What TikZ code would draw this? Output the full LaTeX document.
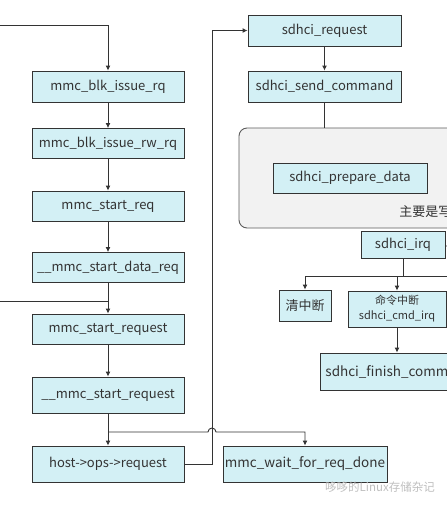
\documentclass[tikz,border=0pt]{standalone}
\usepackage{fontspec}
\setmainfont{Noto Sans CJK SC}
\usetikzlibrary{arrows.meta}
\definecolor{boxcyan}{HTML}{D3F0F5}
\definecolor{grpgray}{HTML}{F2F2F2}
\definecolor{linegray}{HTML}{333333}

\begin{document}
\begin{tikzpicture}[x=1pt,y=-1pt, line width=0.9pt,
  box/.style={draw=linegray, fill=boxcyan, text=linegray, inner sep=0pt, font=\fontsize{13}{15}\selectfont},
  grp/.style={draw=linegray!80, fill=grpgray, rounded corners=8pt},
  arr/.style={draw=linegray, -{Latex[length=5pt,width=5pt]}},
  ln/.style={draw=linegray}]
  \useasboundingbox (0,0) rectangle (447,507);
  \clip (0,0) rectangle (447,507);
  \foreach \n/\y/\h/\t in {blk/86.5/31/mmc\_blk\_issue\_rq, rw/143.5/30/mmc\_blk\_issue\_rw\_rq,
    startreq/206/30/mmc\_start\_req, datareq/267.5/30/\_\_mmc\_start\_data\_req,
    startrequest/329/30/mmc\_start\_request, ustart/395/36/\_\_mmc\_start\_request,
    host/464/36/host->ops->request}
    \node[box, minimum width=152pt, minimum height=\h pt] (\n) at (108,\y) {\t};
  \foreach \a/\b in {blk/rw,rw/startreq,startreq/datareq,datareq/startrequest,startrequest/ustart,ustart/host}
    \draw[arr] (\a) -- (\b);
  \coordinate (in1) at (0,25);
  \coordinate (in2) at (0,301);
  \coordinate (j) at (108,432);
  \draw[arr] (in1) -| (blk);
  \draw[ln] (in2) -- (in2 -| startrequest.north);

  \node[box, minimum width=153pt, minimum height=31pt] (sdhcireq) at (324.5,30.5) {sdhci\_request};
  \node[box, minimum width=153pt, minimum height=31pt] (sendcmd) at (324.5,86.5) {sdhci\_send\_command};
  \node[grp, minimum width=240pt, minimum height=100pt] (grp) at (359,178) {};
  \node[box, minimum width=154pt, minimum height=30pt] (prepare) at (350,178) {sdhci\_prepare\_data};
  \node[anchor=west, inner sep=0pt, text=linegray, font=\fontsize{13}{15}\selectfont] (note) at (399,212) {主要是写};
  \node[box, minimum width=84pt, minimum height=27pt] (irq) at (403,244.5) {sdhci\_irq};
  \node[box, minimum width=52pt, minimum height=31pt] (clear) at (305,305.5) {清中断};
  \node[box, minimum width=98pt, minimum height=36pt, align=center, font=\fontsize{11}{15}\selectfont] (cmdirq) at (397,309) {命令中断\\sdhci\_cmd\_irq};
  \node[box, anchor=west, minimum width=200pt, minimum height=37pt, text width=190pt, inner xsep=4pt, font=\fontsize{13.5}{16}\selectfont] (finish) at (320,371.5) {sdhci\_finish\_command};
  \node[box, minimum width=164pt, minimum height=36pt, font=\fontsize{13.5}{16}\selectfont] (wait) at (305,464) {mmc\_wait\_for\_req\_done};
  \node[text=gray!50, inner sep=0pt, font=\fontsize{11.5}{13}\selectfont] (wm) at (380,487) {哆哆的Linux存储杂记};

  \draw[arr] (host.east) -- ++(28,0) |- (sdhcireq.west);
  \draw[arr] (j) -- (208,432) arc[start angle=180, end angle=360, radius=4] -| (wait.north);
  \draw[arr] (sdhcireq) -- (sendcmd);
  \draw[ln] (sendcmd.south) -- (sendcmd.south |- grp.north);
  \coordinate (irqin) at (460,246);
  \draw[arr] (irqin) -- (irq.east |- irqin);
  \coordinate (br) at (403,276);
  \draw[ln] (irq) -- (br) -- (460,276);
  \draw[arr] (br) -| (clear);
  \draw[arr] (br -| cmdirq) -- (cmdirq);
  \draw[arr] (cmdirq) -- (cmdirq |- finish.north);
\end{tikzpicture}
\end{document}
